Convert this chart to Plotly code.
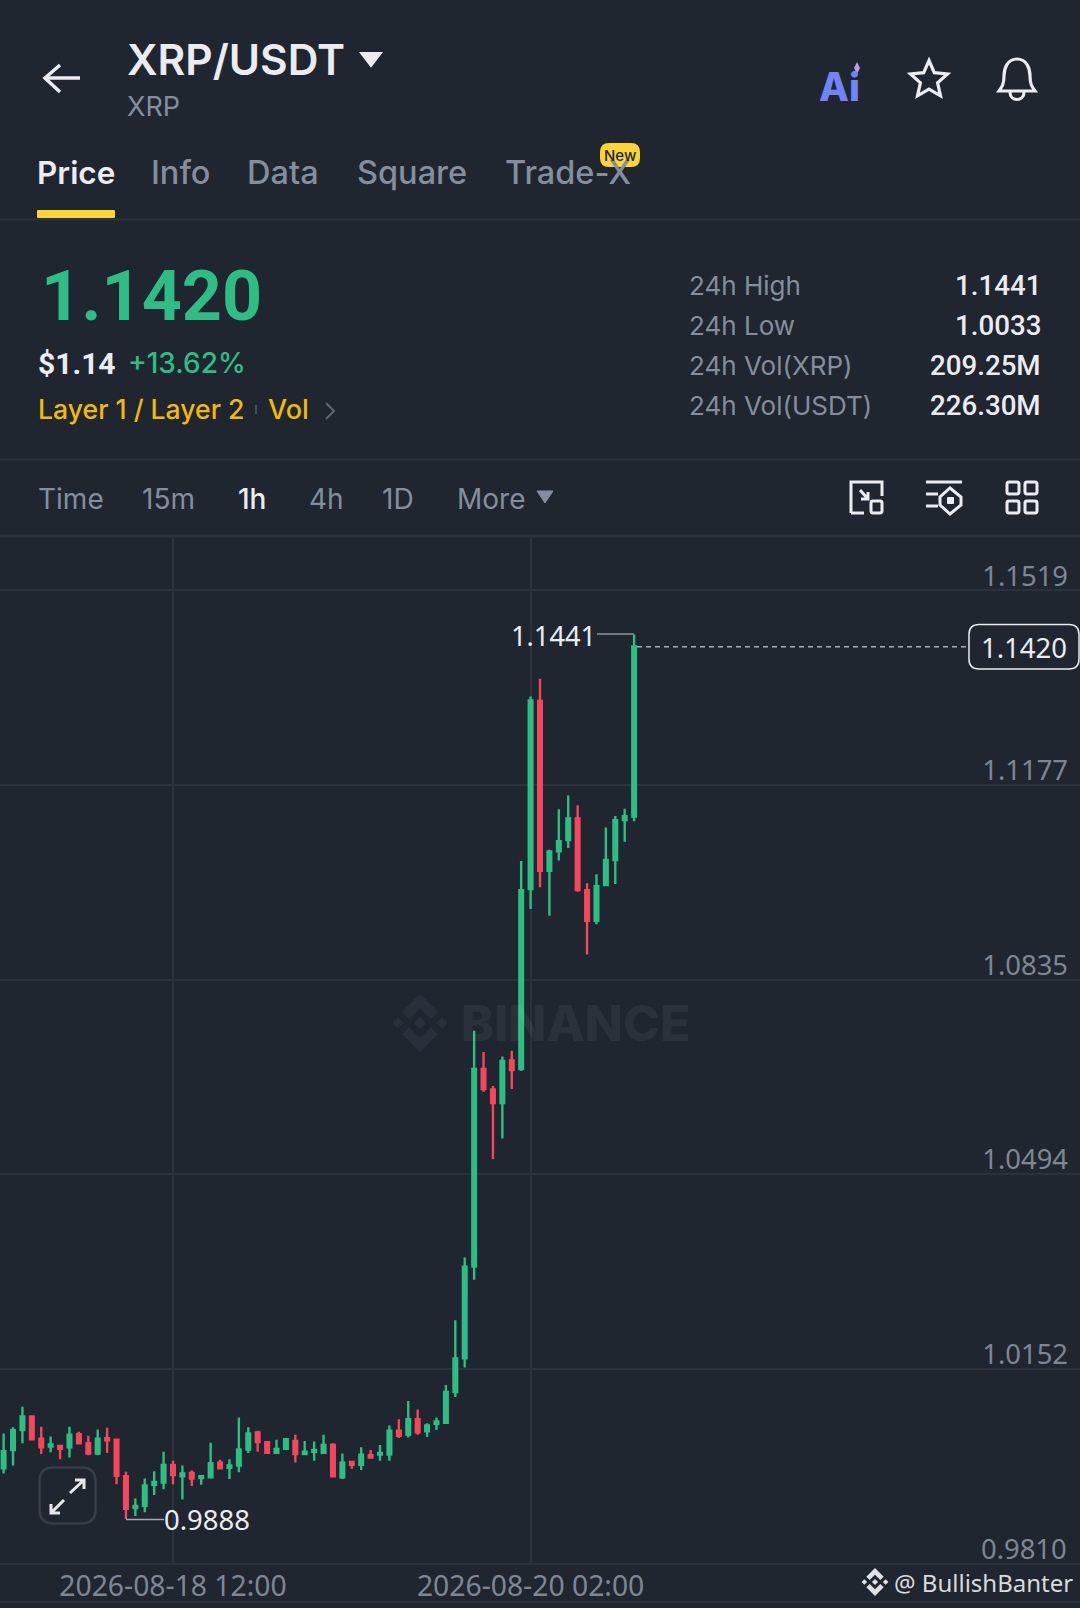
import math, re
import pandas as pd
import plotly.graph_objects as go

# ---------- data ----------
first_candle = "2026-08-17 18:00"
opens = [0.9977,1.0009,1.0044,1.0068,1.0029,1.0015,1.0016,1.0014,1.0037,1.0021,1.0003,1.0030,1.0027,0.9963,0.9907,0.9911,0.9948,0.9952,
         0.9983,0.9963,0.9969,0.9960,0.9961,0.9987,0.9978,0.9982,1.0010,1.0040,1.0023,1.0004,1.0011,1.0025,1.0002,1.0006,1.0004,1.0018,
         0.9961,0.9988,0.9983,1.0000,1.0001,1.0001,1.0043,1.0036,1.0063,1.0042,1.0055,1.0057,1.0111,1.0170,1.0331,1.0678,1.0642,1.0618,
         1.0693,1.0678,1.0994,1.1324,1.1026,1.1060,1.1080,1.1118,1.0992,1.0938,1.1001,1.1045,1.1115,1.1121]
highs = [1.0038,1.0049,1.0085,1.0069,1.0050,1.0033,1.0017,1.0050,1.0041,1.0034,1.0045,1.0048,1.0029,0.9971,0.9924,0.9959,0.9972,1.0006,
         0.9990,0.9982,0.9973,0.9963,1.0022,0.9992,0.9993,1.0066,1.0049,1.0043,1.0024,1.0027,1.0030,1.0036,1.0025,1.0024,1.0036,1.0021,
         1.0003,0.9990,1.0014,1.0009,1.0018,1.0052,1.0063,1.0095,1.0080,1.0056,1.0066,1.0123,1.0237,1.0347,1.0745,1.0708,1.0648,1.0700,
         1.0710,1.1043,1.1332,1.1363,1.1063,1.1134,1.1158,1.1141,1.1004,1.1020,1.1102,1.1122,1.1135,1.1441]
lows = [0.9968,0.9982,1.0021,1.0027,1.0002,1.0005,0.9993,0.9996,1.0019,1.0000,1.0000,1.0004,0.9949,0.9888,0.9893,0.9900,0.9930,0.9940,
        0.9949,0.9922,0.9946,0.9948,0.9959,0.9976,0.9958,0.9970,1.0004,1.0006,1.0003,1.0004,1.0010,0.9987,1.0001,0.9990,1.0003,0.9962,
        0.9958,0.9976,0.9974,0.9994,0.9990,0.9990,1.0030,1.0031,1.0036,1.0032,1.0044,1.0056,1.0102,1.0154,1.0308,1.0638,1.0520,1.0556,
        1.0643,1.0675,1.0959,1.0997,1.0947,1.1044,1.1066,1.0989,1.0879,1.0932,1.0999,1.1003,1.1077,1.1113]
closes = [1.0007,1.0044,1.0068,1.0028,1.0014,1.0019,1.0011,1.0036,1.0021,1.0003,1.0029,1.0026,0.9964,0.9906,0.9911,0.9947,0.9953,0.9983,
          0.9965,0.9968,0.9959,0.9963,0.9986,0.9977,0.9982,1.0010,1.0038,1.0023,1.0004,1.0011,1.0028,1.0002,1.0006,1.0009,1.0018,0.9963,
          0.9987,0.9983,1.0001,0.9996,1.0004,1.0043,1.0034,1.0063,1.0040,1.0052,1.0059,1.0111,1.0170,1.0331,1.0678,1.0643,1.0618,1.0692,
          1.0676,1.0992,1.1325,1.1026,1.1060,1.1078,1.1118,1.0992,1.0938,1.0999,1.1045,1.1115,1.1122,1.1420]
price_ticks = [0.9810, 1.0152, 1.0494, 1.0835, 1.1177, 1.1519]
time_ticks = ["2026-08-18 12:00", "2026-08-20 02:00"]
last_price = 1.1420
high_price = 1.1441
low_price = 0.9888
stats = [("24h High", "1.1441"), ("24h Low", "1.0033"), ("24h Vol(XRP)", "209.25M"), ("24h Vol(USDT)", "226.30M")]
tabs = ["Price", "Info", "Data", "Square", "Trade-X"]
intervals = ["Time", "15m", "1h", "4h", "1D", "More"]

# ---------- style ----------
W, H = 1080, 1608
BG = "#1f2630"
GRID = "#2c323d"
UP = "#2ebd85"
DOWN = "#f6465d"
WHITE = "#eaecef"
GRAY = "#848e9c"
AXIS_GRAY = "#7e8693"
YELLOW = "#fcd535"
UI = "Inter"
NUM = "Roboto"
CHART = "Noto Sans"

def px(x): return x / W
def py(y): return 1 - y / H

def P(s):
    """Turn a path written in page pixels into paper units."""
    out, is_x = [], True
    for tok in re.findall(r"[MLCQZ]|-?\d+\.?\d*", s):
        if tok in "MLCQZ":
            out.append(tok); is_x = True
        else:
            v = float(tok)
            out.append(f"{px(v):.5f}" if is_x else f"{py(v):.5f}")
            is_x = not is_x
    return " ".join(out)

shapes, annos = [], []

def path(s, line=None, fill=None, lw=3, layer="above"):
    shapes.append(dict(type="path", path=P(s), xref="paper", yref="paper", layer=layer,
                       line=dict(color=line or "rgba(0,0,0,0)", width=lw if line else 0),
                       fillcolor=fill or "rgba(0,0,0,0)"))

def hline(x0, x1, y, color=GRID, w=2, dash=None):
    shapes.append(dict(type="line", xref="paper", yref="paper", x0=px(x0), x1=px(x1), y0=py(y), y1=py(y),
                       line=dict(color=color, width=w, dash=dash or "solid")))

def text(x, y, s, size, color, anchor="left", font=UI, weight=400):
    annos.append(dict(x=px(x), y=py(y), xref="paper", yref="paper", text=s, showarrow=False,
                      xanchor=anchor, yanchor="middle", borderpad=0, borderwidth=0,
                      font=dict(size=size, color=color, family=font, weight=weight)))

def rrect(x0, y0, x1, y1, r):
    return (f"M {x0+r} {y0} L {x1-r} {y0} Q {x1} {y0} {x1} {y0+r} L {x1} {y1-r} Q {x1} {y1} {x1-r} {y1} "
            f"L {x0+r} {y1} Q {x0} {y1} {x0} {y1-r} L {x0} {y0+r} Q {x0} {y0} {x0+r} {y0} Z")

def logo(cx, cy, s):
    d = lambda x, y, r: f"M {cx+x*s} {cy+(y-r)*s} L {cx+(x+r)*s} {cy+y*s} L {cx+x*s} {cy+(y+r)*s} L {cx+(x-r)*s} {cy+y*s} Z "
    chev = lambda sgn: (f"M {cx} {cy+sgn*1.0*s} L {cx+0.62*s} {cy+sgn*0.38*s} L {cx+0.38*s} {cy+sgn*0.14*s} "
                        f"L {cx} {cy+sgn*0.52*s} L {cx-0.38*s} {cy+sgn*0.14*s} L {cx-0.62*s} {cy+sgn*0.38*s} Z ")
    return d(0, 0, 0.22) + d(-0.76, 0, 0.2) + d(0.76, 0, 0.2) + chev(-1) + chev(1)

# ---------- header ----------
path("M 80 78 L 45 78 M 60 65 L 45 78 L 60 92", line=WHITE, lw=3.5)
text(127, 59.5, "XRP/USDT", 42.5, WHITE, weight=600)
path("M 361 53 L 381 53 L 371 66 Z", line=WHITE, fill=WHITE, lw=2)
text(127, 107, "XRP", 27, GRAY)
text(819, 87, "Ai", 39, "#7083f7", weight=800)
path("M 857 62 L 860 68 L 857 74 L 854 68 Z", fill="#b79cf2")
star = []
for i in range(10):
    r = 19.5 if i % 2 == 0 else 9
    a = -math.pi / 2 + i * math.pi / 5
    star.append(f"{'M' if i == 0 else 'L'} {929 + r*math.cos(a):.1f} {80 + r*math.sin(a):.1f}")
path(" ".join(star) + " Z", line=WHITE, lw=3.2)
path("M 1017 59 C 1007 59 1004 69 1004 76 C 1004 84 1002 87 999 91 L 1035 91 C 1032 87 1030 84 1030 76 "
     "C 1030 69 1027 59 1017 59 Z M 1010 92 C 1010 102 1024 102 1024 92", line=WHITE, lw=3.2)

tab_x = [37, 151, 247, 357, 505]
for i, (t, x) in enumerate(zip(tabs, tab_x)):
    text(x, 172, t, 31.5 if i == 0 else 32.5, WHITE if i == 0 else GRAY, weight=600 if i == 0 else 500)
path(rrect(600, 143, 640, 167, 9), fill=YELLOW)
text(620, 155, "New", 15, "#202630", anchor="center", weight=500)
path(rrect(37, 210, 115, 218, 1), fill=YELLOW)
hline(0, W, 219.5)

text(41, 296, "1.1420", 70, UP, font=NUM, weight=700)
text(38, 363, "$1.14", 30, WHITE, font=NUM, weight=700)
text(128, 363, "+13.62%", 28, UP, weight=500)
text(38, 409, "Layer 1 / Layer 2", 26.6, "#f0b90b", weight=500)
path("M 256 405 L 256 414", line="#474d57", lw=2)
text(268, 409, "Vol", 27, "#f0b90b", weight=500)
path("M 326 403 L 334 411 L 326 419", line="#5e6673", lw=2)
for i, (k, v) in enumerate(stats):
    y = 285 + i * 40
    text(689, y, k, 26, GRAY)
    text(1041, y, v, 27.7, WHITE, anchor="right", font=NUM, weight=500)
hline(0, W, 459.5)

int_x = [38, 142, 238, 309, 382, 457]
for t, x in zip(intervals, int_x):
    text(x, 499, t, 28, WHITE if t == "1h" else GRAY, weight=500 if t == "1h" else 400)
path("M 537 491 L 553 491 L 545 503 Z", fill=GRAY, line=GRAY, lw=1)
path("M 851 513 L 851 482 L 882 482 L 882 496 M 851 513 L 864 513 M 860 490 L 868 499 M 868 492 L 868 499 L 861 499", line=WHITE, lw=3)
path(rrect(871, 501, 882, 513, 2), line=WHITE, lw=3)
path("M 926 482 L 962 482 M 926 494 L 938 494 M 926 506 L 938 506 M 950 488 L 961 497 L 961 505 L 950 514 L 940 505 L 940 497 Z", line=WHITE, lw=3)
path(rrect(947, 497, 954, 504, 1), fill=WHITE)
for x0 in (1007, 1025):
    for y0 in (482, 501):
        path(rrect(x0, y0, x0 + 12, y0 + 12, 2), line=WHITE, lw=3)
hline(0, W, 536, w=3)
hline(0, W, 1602)

# ---------- chart overlays ----------
path(logo(420, 1023, 29), fill="#2a303b", layer="below")
text(461, 1023, "BINANCE", 49.8, "rgba(255,255,255,0.05)", weight=800)

hline(597, 634, 634, color="#8d939c", w=1.5)
text(595.5, 635, f"{high_price:.4f}", 27.2, WHITE, anchor="right", font=CHART)
hline(126, 164, 1519.5, color="#a5a9af", w=1.5)
text(164, 1519, f"{low_price:.4f}", 27.5, WHITE, font=CHART)
hline(637, 968, 646.7, color="#a8adb5", w=1.5, dash="5px,4px")
path(rrect(969, 624.5, 1079, 669, 10), line=WHITE, fill=BG, lw=1.5)
text(1024, 647, f"{last_price:.4f}", 27.5, WHITE, anchor="center", font=CHART)

path(rrect(39.5, 1467.5, 95.5, 1523.5, 14), line="#363c48", lw=2.5)
path("M 70 1493 L 84 1480 M 75 1480 L 84 1480 L 84 1489 M 64 1500 L 51 1513 M 51 1504 L 51 1513 L 60 1513", line="#e6e8ea", lw=3)

path(logo(875, 1582, 14), fill="#dfe1e4")
text(894, 1582, "@ BullishBanter", 24, "#d8dadd", font=CHART)

# The axis hides an inside label that sits on the range edge, so the lowest tick is labelled here.
annos.append(dict(x=px(1068), xref="paper", y=price_ticks[0], yref="y", yshift=15, yanchor="middle", xanchor="right",
                  text=f"{price_ticks[0]:.4f}", showarrow=False, borderpad=0,
                  font=dict(family=CHART, size=27.4, color=AXIS_GRAY)))

# ---------- figure ----------
times = pd.date_range(first_candle, periods=len(opens), freq="h")
fig = go.Figure(go.Candlestick(
    x=times, open=opens, high=highs, low=lows, close=closes,
    increasing=dict(line=dict(color=UP, width=2.4), fillcolor=UP),
    decreasing=dict(line=dict(color=DOWN, width=2.4), fillcolor=DOWN),
    whiskerwidth=0, showlegend=False,
))
fig.update_layout(
    width=W, height=H, margin=dict(l=0, r=0, t=0, b=0), autosize=False,
    paper_bgcolor=BG, plot_bgcolor=BG, showlegend=False, boxgap=0.45,
    shapes=shapes, annotations=annos, hovermode=False,
    xaxis=dict(domain=[0, 1], range=["2026-08-17 17:37", "2026-08-22 12:23"], type="date",
               rangeslider=dict(visible=False), tickmode="array", tickvals=time_ticks, ticktext=time_ticks,
               showgrid=True, gridcolor=GRID, gridwidth=1.5, showline=True, linecolor=GRID, linewidth=2,
               zeroline=False, ticks="", ticklabelstandoff=-3,
               tickfont=dict(family=CHART, size=28.3, color=AXIS_GRAY), automargin=False),
    yaxis=dict(domain=[(H - 1563.4) / H, (H - 537) / H], range=[0.9810, 1.1612], side="right",
               tickmode="array", tickvals=price_ticks, ticktext=[f"{v:.4f}" for v in price_ticks],
               ticklabelposition="inside", ticklabelstandoff=9, ticklabelshift=-14,
               showgrid=True, gridcolor=GRID, gridwidth=1.5, zeroline=False, showline=False, ticks="",
               tickfont=dict(family=CHART, size=27.4, color=AXIS_GRAY), automargin=False),
)
fig.write_html("out.html", config=dict(displayModeBar=False),
               post_script="document.body.style.margin='0';document.documentElement.style.overflow='hidden';")
